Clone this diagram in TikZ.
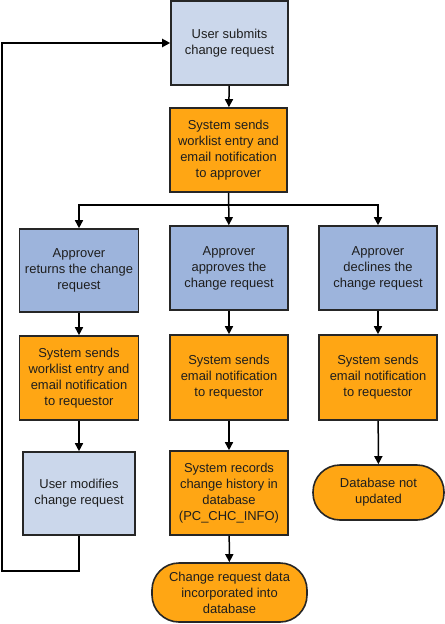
\documentclass[tikz,border=0pt]{standalone}
\usepackage{fontspec}
\setmainfont{Liberation Sans}
\usetikzlibrary{arrows.meta}
\definecolor{lblue}{HTML}{CBD7EB}
\definecolor{mblue}{HTML}{9DB4DC}
\definecolor{orng}{HTML}{FFA614}
\definecolor{txt}{HTML}{1E1E1E}
\tikzset{
  box/.style={draw=black!85, line width=1.6bp, align=center, text=txt,
    font=\fontsize{13}{16}\selectfont, inner sep=2bp},
  lbox/.style={box, fill=lblue},
  bbox/.style={box, fill=mblue},
  obox/.style={box, fill=orng},
  term/.style={box, fill=orng, rounded corners=27bp},
  conn/.style={line width=1.5bp, draw=black},
  arr/.style={conn, -{Triangle[length=8bp,width=8bp]}},
}
\begin{document}
\begin{tikzpicture}[x=1bp,y=-1bp]
\useasboundingbox (0,0) rectangle (445,624);
\node[lbox, minimum width=117bp, minimum height=84bp] (u1) at (229.5,43) {User submits\\change request};
\node[obox, minimum width=117bp, minimum height=84bp] (s1) at (228.5,150) {System sends\\worklist entry and\\email notification\\to approver};
\node[bbox, minimum width=119bp, minimum height=83bp] (a1) at (79,270.5) {Approver\\returns the change\\request};
\node[bbox, minimum width=118bp, minimum height=84bp] (a2) at (229,268) {Approver\\approves the\\change request};
\node[bbox, minimum width=118bp, minimum height=84bp] (a3) at (378,268) {Approver\\declines the\\change request};
\node[obox, minimum width=119bp, minimum height=84bp] (s2) at (79,378) {System sends\\worklist entry and\\email notification\\to requestor};
\node[obox, minimum width=118bp, minimum height=85bp] (s3) at (229,377.5) {System sends\\email notification\\to requestor};
\node[obox, minimum width=118bp, minimum height=85bp] (s4) at (378,377.5) {System sends\\email notification\\to requestor};
\node[lbox, minimum width=112bp, minimum height=83bp] (um) at (79,493.5) {User modifies\\change request};
\node[obox, minimum width=118bp, minimum height=84bp] (sr) at (229,493) {System records\\change history in\\database\\(PC\_CHC\_INFO)};
\node[term, minimum width=155bp, minimum height=59bp] (t1) at (229.5,592.5) {Change request data\\incorporated into\\database};
\node[term, minimum width=131bp, minimum height=55bp] (t2) at (378.5,492.5) {Database not\\updated};
\coordinate (br) at (229,205);
\coordinate (lx) at (2,571);
\draw[arr] (u1) -- (s1);
\draw[arr] (s1) -- (a2);
\draw[arr] (s1.south) |- (br) -| (a1.north);
\draw[arr] (br) -| (a3.north);
\draw[arr] (a1) -- (s2);
\draw[arr] (a2) -- (s3);
\draw[arr] (a3) -- (s4);
\draw[arr] (s2) -- (um);
\draw[arr] (s3) -- (sr);
\draw[arr] (s4) -- (t2);
\draw[arr] (sr) -- (t1);
\draw[arr, line width=2.2bp] (um.south) |- (lx) |- (u1.west);
\end{tikzpicture}
\end{document}
